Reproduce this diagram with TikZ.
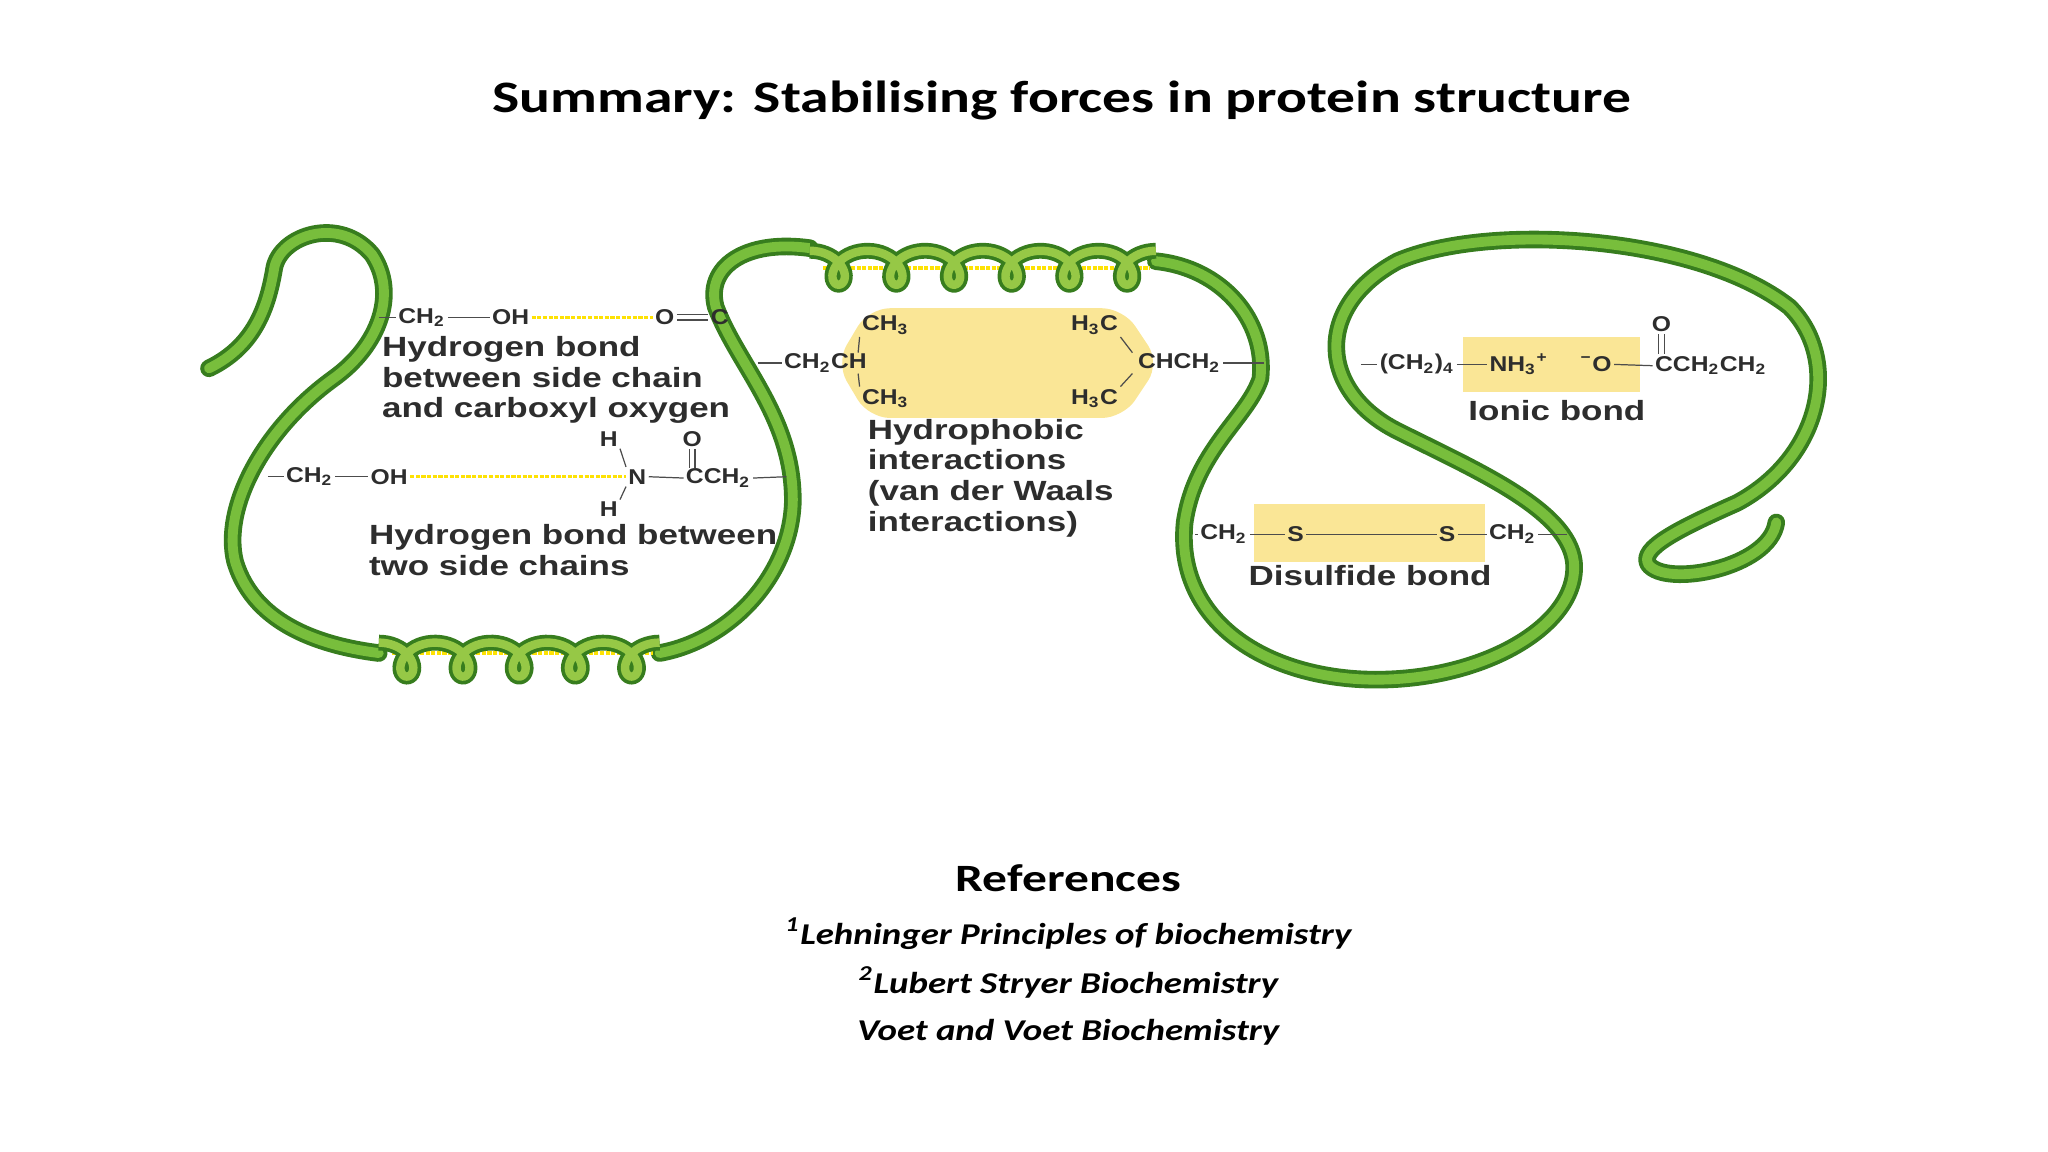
\documentclass[tikz,border=0pt]{standalone}
\usepackage{fontspec}
\setmainfont{Liberation Sans}
\newfontfamily\labfont[FakeStretch=1.26]{Liberation Sans}
\newfontfamily\chemfont[FakeStretch=1.15]{Liberation Sans}
\newfontfamily\calibt[FakeStretch=1.28]{Carlito}
\newfontfamily\calibr[FakeStretch=1.22]{Carlito}
\definecolor{ribD}{RGB}{55,125,30}
\definecolor{ribL}{RGB}{120,190,60}
\definecolor{helL}{RGB}{150,200,70}
\definecolor{yel}{RGB}{250,230,150}
\definecolor{txt}{RGB}{45,45,45}
\begin{document}
\begin{tikzpicture}[x=0.013061cm,y=-0.013061cm,
  lbl/.style={font=\labfont\fontsize{7.9}{8.7}\selectfont\bfseries,text=txt,align=left,inner sep=0pt},
  chem/.style={font=\chemfont\fontsize{6.1}{7}\selectfont\bfseries,text=txt,inner sep=0.5pt},
  bond/.style={draw=black!70,line width=0.35pt},
  hb/.style={draw=yellow!85!orange,line width=1pt,dash pattern=on 1.2pt off 0.4pt},
  ybox/.style={fill=yel,draw=none},
  ribdark/.style={draw=ribD,line width=5pt,line cap=round,line join=round},
  riblight/.style={draw=ribL,line width=2.8pt,line cap=round,line join=round},
  helixd/.style={draw=ribD,line width=4.5pt},
  helixl/.style={draw=helL,line width=2.4pt}]
\useasboundingbox (0,0) rectangle (1568,882);
% title
\node[font=\calibt\fontsize{12.8}{15}\selectfont\bfseries] (title) at (813,77) {Summary: Stabilising forces in protein structure};
% yellow boxes
\path[ybox,rounded corners=6pt] (665,236) -- (860,236) -- (888,278) -- (860,320) -- (665,320) -- (640,278) -- cycle;
\path[ybox] (960,386) rectangle (1137,430);
\path[ybox] (1120,258) rectangle (1256,300);
% ribbon
\def\ribA{(160,282) .. controls (195,265) and (205,235) .. (210,205) .. controls (215,180) and (260,165) .. (285,195) .. controls (305,225) and (290,265) .. (255,290) .. controls (200,330) and (170,390) .. (180,430) .. controls (195,480) and (250,495) .. (290,500)}
\def\ribB{(505,500) .. controls (560,490) and (605,440) .. (607,385) .. controls (608,320) and (565,280) .. (548,235) .. controls (540,205) and (570,183) .. (620,190)}
\def\ribC{(885,200) .. controls (935,205) and (970,245) .. (965,290) .. controls (955,320) and (915,345) .. (907,400) .. controls (900,470) and (960,515) .. (1040,520) .. controls (1130,525) and (1210,480) .. (1205,430) .. controls (1200,390) and (1130,360) .. (1070,330) .. controls (1010,300) and (1005,235) .. (1070,200) .. controls (1140,170) and (1300,180) .. (1370,235) .. controls (1410,275) and (1395,350) .. (1330,385) .. controls (1285,405) and (1255,420) .. (1262,432) .. controls (1275,450) and (1355,435) .. (1360,400)}
\draw[ribdark] \ribA; \draw[riblight] \ribA;
\draw[ribdark] \ribB; \draw[riblight] \ribB;
\draw[ribdark] \ribC; \draw[riblight] \ribC;
% helices
\draw[hb] (300,500) -- (500,500);
\draw[helixd] plot[domain=0:1800,samples=200] ({290+\x/1800*215+14*sin(\x)},{505-13*cos(\x)});
\draw[helixl] plot[domain=0:1800,samples=200] ({290+\x/1800*215+14*sin(\x)},{505-13*cos(\x)});
\draw[hb] (630,205) -- (880,205);
\draw[helixd] plot[domain=0:2160,samples=240] ({620+\x/2160*265+14*sin(\x)},{205-13*cos(\x)});
\draw[helixl] plot[domain=0:2160,samples=240] ({620+\x/2160*265+14*sin(\x)},{205-13*cos(\x)});
% H-bond 1
\coordinate (r1) at (290,243);
\node[chem] (c1) at (323,243) {CH\textsubscript{2}};
\node[chem] (oh1) at (391,243) {OH};
\node[chem] (o1) at (509,243) {O};
\node[chem] (cc1) at (551,243) {C};
\draw[bond] (r1) -- (c1.west); \draw[bond] (c1.east) -- (oh1.west);
\draw[hb] (oh1.east) -- (o1.west);
\draw[bond,double,double distance=1.2pt] (o1.east) -- (cc1.west);
\node[lbl,anchor=west] (l1) at (292,291) {Hydrogen bond\\between side chain\\and carboxyl oxygen};
% H-bond 2
\coordinate (r2a) at (205,365); \coordinate (r2b) at (602,365);
\node[chem] (c2) at (237,365) {CH\textsubscript{2}};
\node[chem] (oh2) at (298,365) {OH};
\node[chem] (n2) at (488,365) {N};
\node[chem] (cch2) at (550,366) {CCH\textsubscript{2}};
\node[chem] (h2a) at (466,336) {H};
\node[chem] (h2b) at (466,390) {H};
\node[chem] (o2) at (530,336) {O};
\draw[bond] (r2a) -- (c2.west); \draw[bond] (c2.east) -- (oh2.west);
\draw[hb] (oh2.east) -- (n2.west);
\draw[bond] (n2.east) -- (cch2.west); \draw[bond] (cch2.east) -- (r2b);
\draw[bond] (n2.north west) -- (h2a.south east); \draw[bond] (n2.south west) -- (h2b.north east);
\draw[bond,double,double distance=1.2pt] (o2.south) -- (530,358);
\node[lbl,anchor=west] (l2) at (282,421) {Hydrogen bond between\\two side chains};
% hydrophobic
\coordinate (r3a) at (580,278); \coordinate (r3b) at (968,278);
\node[chem] (hl) at (632,278) {CH\textsubscript{2}CH};
\node[chem] (hl1) at (678,249) {CH\textsubscript{3}};
\node[chem] (hl2) at (678,305) {CH\textsubscript{3}};
\node[chem] (hr) at (903,278) {CHCH\textsubscript{2}};
\node[chem] (hr1) at (838,249) {H\textsubscript{3}C};
\node[chem] (hr2) at (838,305) {H\textsubscript{3}C};
\draw[bond] (r3a) -- (hl.west); \draw[bond] (hr.east) -- (r3b);
\draw[bond] (657,270) -- (hl1.south west); \draw[bond] (657,286) -- (hl2.north west);
\draw[bond] (hr1.south east) -- (867,270); \draw[bond] (hr2.north east) -- (867,286);
\node[lbl,anchor=west] (l3) at (664,366) {Hydrophobic\\interactions\\(van der Waals\\interactions)};
% disulfide
\coordinate (r4a) at (915,409); \coordinate (r4b) at (1200,409);
\node[chem] (d1) at (937,409) {CH\textsubscript{2}};
\node[chem] (s1) at (992,409) {S};
\node[chem] (s2) at (1108,409) {S};
\node[chem] (d2) at (1158,409) {CH\textsubscript{2}};
\draw[bond] (r4a) -- (d1.west); \draw[bond] (d1.east) -- (s1.west);
\draw[bond] (s1.east) -- (s2.west); \draw[bond] (s2.east) -- (d2.west); \draw[bond] (d2.east) -- (r4b);
\node[lbl] (l4) at (1049,441) {Disulfide bond};
% ionic
\coordinate (r5a) at (1042,279);
\node[chem] (i1) at (1085,279) {(CH\textsubscript{2})\textsubscript{4}};
\node[chem] (i2) at (1163,279) {NH\textsubscript{3}\textsuperscript{+}};
\node[chem] (i3) at (1222,279) {\textsuperscript{−}O};
\node[chem] (i4) at (1310,280) {CCH\textsubscript{2}CH\textsubscript{2}};
\node[chem] (i5) at (1272,248) {O};
\draw[bond] (r5a) -- (i1.west); \draw[bond] (i1.east) -- (i2.west);
\draw[bond] (i3.east) -- (i4.west);
\draw[bond,double,double distance=1.2pt] (i5.south) -- (1272,271);
\node[lbl] (l5) at (1192,314) {Ionic bond};
% references
\node[font=\calibt\fontsize{11}{12}\selectfont\bfseries] (ref) at (818,672) {References};
\node[font=\calibr\fontsize{8.6}{10}\selectfont\bfseries\itshape] (r1t) at (818,715) {\textsuperscript{1}Lehninger Principles of biochemistry};
\node[font=\calibr\fontsize{8.6}{10}\selectfont\bfseries\itshape] (r2t) at (818,752) {\textsuperscript{2}Lubert Stryer Biochemistry};
\node[font=\calibr\fontsize{8.6}{10}\selectfont\bfseries\itshape] (r3t) at (818,790) {Voet and Voet Biochemistry};
\end{tikzpicture}
\end{document}
